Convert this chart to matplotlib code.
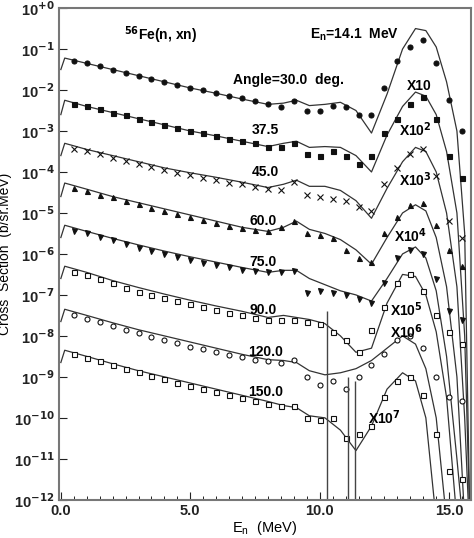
import numpy as np
import matplotlib
matplotlib.use("Agg")
import matplotlib.pyplot as plt
from matplotlib.ticker import MultipleLocator, FixedLocator

plt.rcParams["font.family"] = ["Liberation Sans", "DejaVu Sans"]
plt.rcParams["font.weight"] = "bold"

# model curve nodes (MeV) and log10 cross sections per angle
curve_x = [0, 0.15, 1, 2, 3, 4, 5, 6, 7, 8, 8.6, 9.1, 9.6, 10.2, 10.8, 11.4,
           12.0, 12.6, 13.2, 13.7, 14.1, 14.5, 14.9, 15.3, 15.6, 15.8]
curve_30 = [-1.5, -1.22, -1.35, -1.5, -1.65, -1.8, -1.95, -2.08, -2.22, -2.35, -2.32, -2.25, -2.38,
            -2.35, -2.3, -2.5, -3.05, -2.1, -1.0, -0.5, -0.55, -0.95, -1.8, -3.0, -5.5, -12.5]
curve_375 = [-2.6, -2.25, -2.4, -2.55, -2.7, -2.85, -3.0, -3.12, -3.25, -3.38, -3.3, -3.25, -3.4,
             -3.38, -3.4, -3.6, -4.0, -3.1, -2.4, -2.05, -2.15, -2.6, -3.5, -5.0, -8, -12.5]
curve_45 = [-3.6, -3.3, -3.45, -3.6, -3.75, -3.9, -4.02, -4.13, -4.25, -4.38, -4.3, -4.2, -4.35,
            -4.35, -4.45, -4.7, -5.13, -4.4, -3.75, -3.4, -3.5, -4.0, -5.0, -6.8, -10, -13]
curve_60 = [-4.6, -4.27, -4.42, -4.6, -4.75, -4.9, -5.05, -5.2, -5.35, -5.45, -5.35, -5.2, -5.4,
            -5.5, -5.65, -5.9, -6.25, -5.6, -5.0, -4.8, -4.95, -5.6, -6.8, -9, -12.5, -13]
curve_75 = [-5.6, -5.3, -5.45, -5.62, -5.78, -5.93, -6.07, -6.2, -6.33, -6.45, -6.4, -6.4, -6.6,
            -6.75, -6.9, -7.0, -7.15, -6.6, -6.0, -5.83, -6.1, -6.9, -8.5, -11, -13, -13]
curve_90 = [-6.6, -6.3, -6.45, -6.65, -6.82, -6.98, -7.13, -7.27, -7.4, -7.55, -7.5, -7.55, -7.6,
            -7.7, -8.0, -8.4, -8.3, -7.2, -6.5, -6.55, -7.0, -7.9, -9.5, -12.5, -13, -13]
curve_120 = [-7.65, -7.35, -7.5, -7.68, -7.85, -8.0, -8.15, -8.3, -8.45, -8.58, -8.6, -8.65, -8.85,
             -8.95, -8.9, -8.8, -8.6, -8.3, -8.0, -8.2, -8.8, -10, -12.5, -13, -13, -13]
curve_150 = [-8.65, -8.35, -8.5, -8.68, -8.85, -9.0, -9.15, -9.3, -9.45, -9.6, -9.7, -9.75, -9.95,
             -10.0, -10.3, -10.8, -10.2, -9.3, -8.9, -9.1, -10.0, -12.5, -13, -13, -13, -13]

# measured points (MeV) and log10 values
pts_x = [0.5, 1, 1.5, 2, 2.5, 3, 3.5, 4, 4.5, 5, 5.5, 6, 6.5, 7, 7.5, 8, 8.5, 9, 9.5, 10,
         10.5, 11, 11.5, 12, 12.5, 13, 13.5, 14, 14.5, 15, 15.5]
pts_30 = [-1.3, -1.35, -1.42, -1.5, -1.58, -1.65, -1.72, -1.8, -1.87, -1.95, -2.0, -2.08, -2.15, -2.2,
          -2.27, -2.35, -2.42, -2.28, -2.5, -2.5, -2.4, -2.42, -2.62, -2.62, -1.95, -1.3, -0.95, -0.78,
          -1.35, -2.24, -3.0]
pts_375 = [-2.35, -2.4, -2.47, -2.55, -2.62, -2.7, -2.78, -2.85, -2.93, -3.0, -3.06, -3.12, -3.2, -3.25,
           -3.3, -3.38, -3.4, -3.3, -3.55, -3.62, -3.5, -3.6, -3.8, -3.6, -3.05, -2.7, -2.35, -2.17,
           -2.7, -3.6, -4.15]
pts_45 = [-3.45, -3.5, -3.57, -3.65, -3.72, -3.8, -3.88, -3.95, -4.02, -4.08, -4.14, -4.2, -4.26, -4.3,
          -4.37, -4.42, -4.45, -4.25, -4.55, -4.6, -4.65, -4.7, -4.85, -4.95, -4.3, -3.9, -3.55, -3.45,
          -4.1, -5.2, -5.6]
pts_60 = [-4.4, -4.47, -4.55, -4.62, -4.7, -4.78, -4.87, -4.95, -5.02, -5.1, -5.17, -5.25, -5.32, -5.37,
          -5.42, -5.45, -5.35, -5.2, -5.5, -5.55, -5.6, -5.9, -6.1, -6.2, -5.5, -5.1, -4.8, -4.75,
          -5.3, -5.9, -6.3]
pts_75 = [-5.45, -5.5, -5.58, -5.67, -5.76, -5.85, -5.93, -6.0, -6.08, -6.15, -6.22, -6.28, -6.33, -6.38,
          -6.42, -6.45, -6.45, -6.42, -6.95, -6.9, -6.95, -7.0, -7.1, -7.2, -6.7, -6.1, -5.9, -6.0,
          -6.6, -7.4, -7.6]
pts_90 = [-6.45, -6.52, -6.62, -6.72, -6.82, -6.92, -7.0, -7.08, -7.16, -7.23, -7.3, -7.37, -7.43, -7.5,
          -7.56, -7.6, -7.6, -7.62, -7.65, -7.7, -7.9, -8.1, -8.4, -7.85, -7.3, -6.7, -6.5, -6.9,
          -7.5, -7.9, -8.2]
pts_120 = [-7.5, -7.58, -7.67, -7.76, -7.85, -7.94, -8.02, -8.1, -8.18, -8.26, -8.33, -8.4, -8.46, -8.52,
           -8.58, -8.62, -8.65, -8.6, -9.0, -9.2, -9.1, -9.3, -9.0, -8.7, -8.45, -8.1, -8.0, -8.3,
           -9.0, -9.5, -9.6]
pts_150 = [-8.45, -8.53, -8.62, -8.7, -8.8, -8.89, -8.98, -9.06, -9.14, -9.22, -9.3, -9.38, -9.45, -9.52,
           -9.58, -9.65, -9.7, -9.7, -10.0, -10.05, -10.0, -10.5, -10.4, -10.2, -9.5, -9.1, -9.0, -9.45,
           -10.4, -11.3, -11.5]

series = [
    (curve_30, pts_30, "o", True),
    (curve_375, pts_375, "s", True),
    (curve_45, pts_45, "x", True),
    (curve_60, pts_60, "^", True),
    (curve_75, pts_75, "v", True),
    (curve_90, pts_90, "s", False),
    (curve_120, pts_120, "o", False),
    (curve_150, pts_150, "s", False),
]

angle_labels = ["Angle=30.0  deg.", "37.5", "45.0", "60.0", "75.0", "90.0", "120.0", "150.0"]
angle_pos = [(8.8, -1.75), (7.9, -2.98), (7.9, -4.0), (7.8, -5.2), (7.8, -6.2), (7.8, -7.37),
             (7.9, -8.4), (7.9, -9.37)]
scale_labels = ["X10", "X10$^2$", "X10$^3$", "X10$^4$", "X10$^5$", "X10$^6$", "X10$^7$"]
scale_pos = [(13.85, -1.9), (13.7, -2.98), (13.7, -4.2), (13.5, -5.55), (13.35, -7.35),
             (13.35, -7.9), (12.5, -10.0)]

fig = plt.figure(figsize=(4.74, 5.38), dpi=100)
ax = fig.add_axes([0.124, 0.071, 0.870, 0.914])

for curve, pts, marker, filled in series:
    ax.plot(curve_x, 10 ** np.array(curve), color="#333333", lw=0.9)
    ax.plot(pts_x, 10 ** np.array(pts), marker, ms=3.6 if marker != "x" else 4,
            color="#111111", mfc="#111111" if filled else "white", mew=0.8, ls="none")

# long error bars near the dips
ax.vlines([10.3, 11.1, 11.35], [1e-12] * 3, [10 ** -7.4, 10 ** -9.0, 10 ** -9.1],
          color="#444444", lw=1)

for s, (x, y) in zip(angle_labels, angle_pos):
    ax.text(x, 10 ** y, s, ha="center", va="center", fontsize=10)
for s, (x, y) in zip(scale_labels, scale_pos):
    ax.text(x, 10 ** y, s, ha="center", va="center", fontsize=10)
ax.text(3.85, 10 ** -0.66, "$^{56}$Fe(n, xn)", ha="center", va="center", fontsize=10)
ax.text(11.35, 10 ** -0.66, "E$_\\mathregular{n}$=14.1  MeV", ha="center", va="center", fontsize=10)

ax.set_yscale("log")
ax.set_xlim(-0.08, 15.85)
ax.set_ylim(1e-12, 1)
ax.set_yticks([10.0 ** -k for k in range(13)])
ax.set_yticklabels(["10$^{+0}$"] + ["10$^{-%d}$" % k for k in range(1, 13)])
ax.yaxis.set_minor_locator(FixedLocator([]))
ax.set_xticks([0, 5, 10, 15])
ax.set_xticklabels(["0.0", "5.0", "10.0", "15.0"])
ax.xaxis.set_minor_locator(MultipleLocator(0.5))
ax.tick_params(direction="in", labelsize=10.5, colors="#222222", length=6, pad=3)
ax.tick_params(which="minor", direction="in", length=3)
for sp in ax.spines.values():
    sp.set_color("#777777")
    sp.set_linewidth(1.5)
ax.set_xlabel("E$_\\mathregular{n}$  (MeV)", fontsize=10.5, labelpad=1)
ax.set_ylabel("Cross  Section  (b/sr.MeV)", fontsize=10, labelpad=1)

fig.savefig("out.png", dpi=100)
